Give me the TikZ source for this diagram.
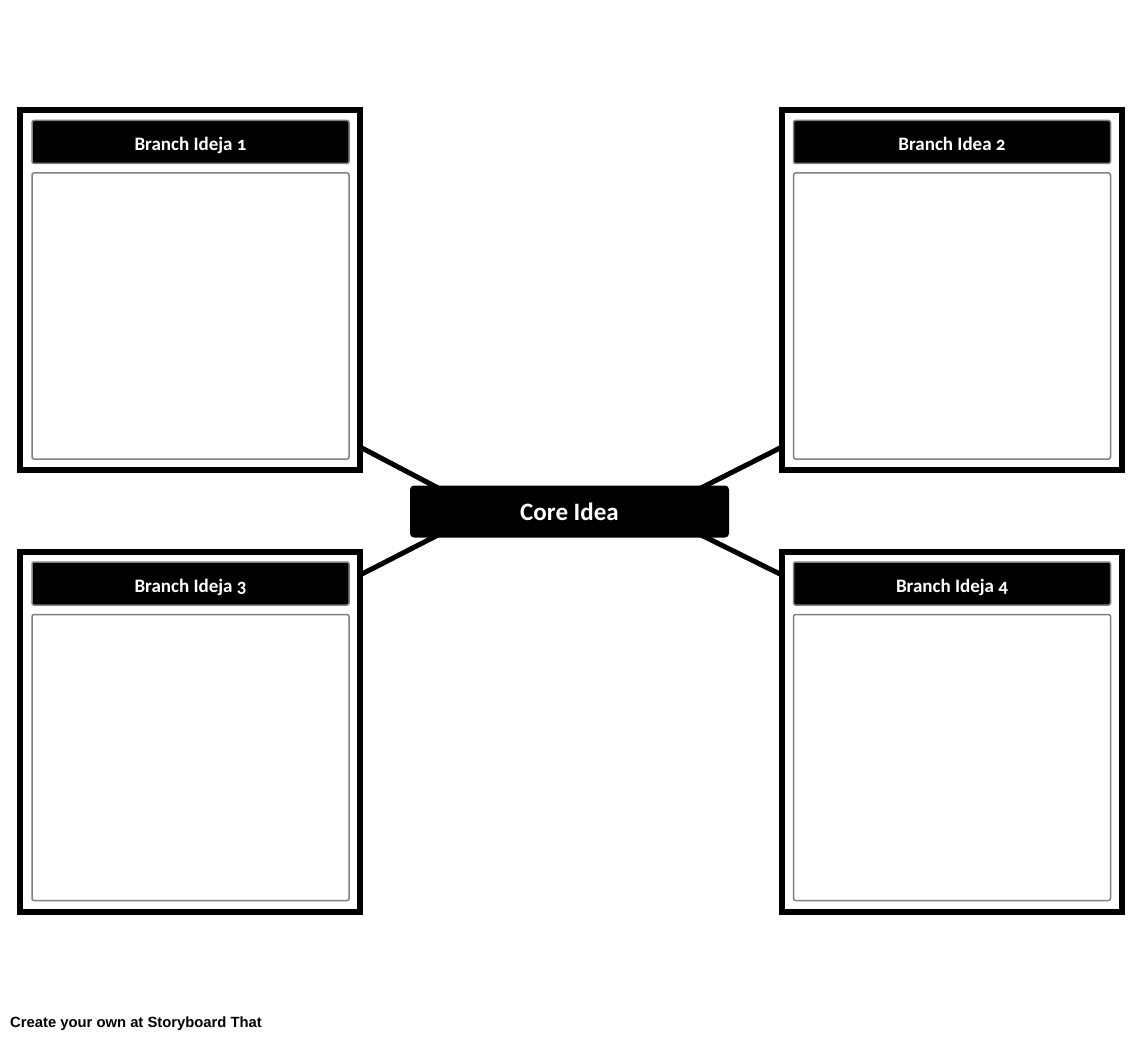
\documentclass[tikz,border=0pt]{standalone}
\usepackage{fontspec}
\setmainfont{Carlito}[Numbers=OldStyle]
\newfontfamily\footfont{Liberation Sans}
\begin{document}
\begin{tikzpicture}[x=1pt,y=-1pt,
  frame/.style={draw=black,line width=6pt,fill=white,minimum width=340pt,minimum height=360pt,inner sep=0pt},
  titlebar/.style={draw=gray,line width=1.5pt,fill=black,rounded corners=2pt,minimum width=317pt,minimum height=43pt,inner sep=0pt,text=white,text height=17pt,text depth=0pt,font=\fontsize{19}{21}\selectfont\bfseries},
  content/.style={draw=gray,line width=1.5pt,fill=white,rounded corners=2pt,minimum width=317pt,minimum height=286pt,inner sep=0pt},
  core/.style={fill=black,rounded corners=4pt,minimum width=319pt,minimum height=52pt,inner sep=0pt,text=white,text height=17pt,text depth=0pt,font=\fontsize{25}{27}\selectfont\bfseries},
  link/.style={draw=black,line width=5pt}]
\useasboundingbox (0,0) rectangle (1143,1040);
\fill[white] (0,0) rectangle (1143,1040);
% link end points
\coordinate (l1) at (360,447);
\coordinate (l2) at (782,447);
\coordinate (l3) at (360,575);
\coordinate (l4) at (782,575);
\coordinate (c1) at (440,489);
\coordinate (c2) at (699,489);
\coordinate (c3) at (440,534);
\coordinate (c4) at (699,534);
\draw[link] (l1) -- (c1);
\draw[link] (l2) -- (c2);
\draw[link] (l3) -- (c3);
\draw[link] (l4) -- (c4);
% boxes
\node[frame] (f1) at (190,290) {};
\node[frame] (f2) at (952,290) {};
\node[frame] (f3) at (190,731.5) {};
\node[frame] (f4) at (952,731.5) {};
\node[titlebar] (t1) at (190.5,142) {Branch Ideja 1};
\node[titlebar] (t2) at (952,142) {Branch Idea 2};
\node[titlebar] (t3) at (190.5,583.5) {Branch Ideja 3};
\node[titlebar] (t4) at (952,583.5) {Branch Ideja 4};
\node[content] (k1) at (190.5,316) {};
\node[content] (k2) at (952,316) {};
\node[content] (k3) at (190.5,757.5) {};
\node[content] (k4) at (952,757.5) {};
\node[core] (core) at (569.5,511.5) {Core Idea};
\node[anchor=base west,inner sep=0pt,font=\footfont\fontsize{14.8}{16}\selectfont\bfseries] (foot) at (10,1027) {Create your own at Storyboard That};
\end{tikzpicture}
\end{document}
